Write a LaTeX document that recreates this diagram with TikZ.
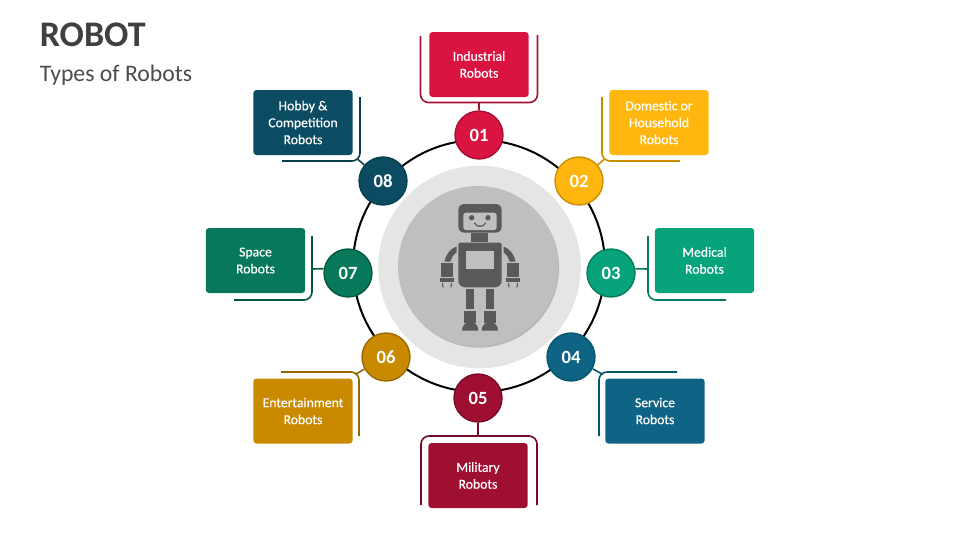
\documentclass[tikz,border=0pt]{standalone}
\usepackage{xcolor}
\usepackage{fontspec}
\setmainfont{Carlito}
\newfontface\cardfont{Carlito}[FakeBold=0.3]
\usetikzlibrary{calc, positioning, shadows}
\definecolor{indfill}{HTML}{D91440}
\definecolor{indline}{HTML}{A31034}
\definecolor{domfill}{HTML}{FFB60F}
\definecolor{domline}{HTML}{C98D00}
\definecolor{medfill}{HTML}{07A37A}
\definecolor{medline}{HTML}{057A5C}
\definecolor{serfill}{HTML}{0F6384}
\definecolor{serline}{HTML}{07566A}
\definecolor{milfill}{HTML}{9F0F32}
\definecolor{milline}{HTML}{740A25}
\definecolor{entfill}{HTML}{C98A00}
\definecolor{entline}{HTML}{966600}
\definecolor{spafill}{HTML}{08785A}
\definecolor{spaline}{HTML}{055640}
\definecolor{hobfill}{HTML}{0B4C63}
\definecolor{hobline}{HTML}{063F4C}
\definecolor{icon}{HTML}{595959}
\definecolor{panel}{HTML}{BFBFBF}
\tikzset{
	x=.75pt,
	y=-.75pt,
	badge/.style 2 args={
		draw=#2,
		fill=#1,
		circle,
		line width=1pt,
		minimum size=36pt,
		inner sep=0pt,
		text=white,
		font=\fontsize{14}{16}\selectfont\bfseries
	},
	card/.style={
		fill=#1,
		rounded corners=2.5pt,
		minimum width=74.6pt,
		minimum height=48.75pt,
		inner sep=0pt,
		align=center,
		text=white,
		font=\fontsize{10.3}{12.7}\cardfont
	},
	bracket/.style={
		draw=#1,
		line width=1.2pt,
		rounded corners=6pt
	},
	link/.style={
		draw=#1,
		line width=1.2pt
	},
	part/.style={
		fill=icon,
		draw=none
	}
}

\begin{document}
\begin{tikzpicture}
	\useasboundingbox (0,0) rectangle (960,540);
	\node[anchor=west, inner sep=0pt, text=black!75, font=\fontsize{27}{32}\selectfont\bfseries] (title) at (39.5,35) {ROBOT};
	\node[anchor=west, inner sep=0pt, text=black!70, font=\fontsize{17.8}{22}\selectfont] (subtitle) at (39.5,75) {Types of Robots};

	% ring and centre
	\node[circle, draw=black, line width=1.5pt, minimum size=189pt, inner sep=0pt] (ring) at (479,266) {};
	\node[circle, fill=black!10, minimum size=152pt, inner sep=0pt] (halo) at (479.5,267) {};
	\node[circle, fill=panel, minimum size=120pt, inner sep=0pt, drop shadow={shadow xshift=.8pt, shadow yshift=-1.2pt, opacity=.45}] (disc) at (478,266) {};

	% robot
	\fill[part, rounded corners=4.5pt] (458.3,204) rectangle (501.7,232.7);
	\fill[panel, rounded corners=2pt] (463.3,212.7) rectangle (496.7,230);
	\fill[part] (471.7,217.7) circle[radius=2.7];
	\fill[part] (488,217.7) circle[radius=2.7];
	\draw[icon, line width=.9pt, line cap=round] (474.5,223) .. controls (476.5,227.5) and (483.5,227.5) .. (485.5,223);
	\fill[part] (471,232.7) rectangle (488,241.7);
	\fill[part, rounded corners=5pt] (458.3,246) -- (458.3,287.3) -- (501.7,287.3) -- (501.7,246) -- cycle;
	\fill[part, rounded corners=1.5pt] (458.3,252) -- (458.3,242.7) -- (501.7,242.7) -- (501.7,252) -- cycle;
	\fill[panel] (465.7,251) rectangle (494.3,269.3);
	\fill[part] (456.5,246.5) .. controls (450,249) and (446,254) .. (444.5,261.7) -- (450.5,261.7) .. controls (451.5,257) and (454,254) .. (456.5,252.5) -- cycle;
	\fill[part] (503.5,246.5) .. controls (510,249) and (514,254) .. (515.5,261.7) -- (509.5,261.7) .. controls (508.5,257) and (506,254) .. (503.5,252.5) -- cycle;
	\fill[part] (441,262.7) rectangle (452.7,276.7);
	\fill[part] (507.3,262.7) rectangle (519,276.7);
	\fill[part] (440,277.5) rectangle (453.7,282);
	\fill[part] (506.3,277.5) rectangle (520,282);
	\draw[icon, line width=.8pt] (442.5,283) -- (443,287.5) (451.5,283) -- (451,287.5);
	\draw[icon, line width=.8pt] (508.5,283) -- (509,287.5) (517.5,283) -- (517,287.5);
	\fill[part] (466,289.3) rectangle (474,309.3);
	\fill[part] (486,289.3) rectangle (494,309.3);
	\fill[part] (464.3,310.7) rectangle (476,322.5);
	\fill[part] (484,310.7) rectangle (495.7,322.5);
	\fill[part] (462,330.7) .. controls (462,325) and (466,322) .. (470.2,322) .. controls (474.4,322) and (478.3,325) .. (478.3,330.7) -- cycle;
	\fill[part] (481.7,330.7) .. controls (481.7,325) and (485.7,322) .. (489.9,322) .. controls (494.1,322) and (498,325) .. (498,330.7) -- cycle;

	% numbered badges
	\node[badge={indfill}{indline}] (n1) at (479,135) {01};
	\node[badge={domfill}{domline}] (n2) at (579,181) {02};
	\node[badge={medfill}{medline}] (n3) at (611,273) {03};
	\node[badge={serfill}{serline}] (n4) at (571,357) {04};
	\node[badge={milfill}{milline}] (n5) at (478,398) {05};
	\node[badge={entfill}{entline}] (n6) at (386,357) {06};
	\node[badge={spafill}{spaline}] (n7) at (348,273) {07};
	\node[badge={hobfill}{hobline}] (n8) at (383,181) {08};

	% cards
	\node[card=indfill] (c1) at (479,64.5) {Industrial\\Robots};
	\node[card=domfill] (c2) at (659,122.5) {Domestic or\\Household\\Robots};
	\node[card=medfill] (c3) at (704.5,260.5) {Medical\\Robots};
	\node[card=serfill] (c4) at (655,411) {Service\\Robots};
	\node[card=milfill] (c5) at (478,475.5) {Military\\Robots};
	\node[card=entfill] (c6) at (303,411) {Entertainment\\Robots};
	\node[card=spafill] (c7) at (255.5,260.5) {Space\\Robots};
	\node[card=hobfill] (c8) at (303,122.5) {Hobby \&\\Competition\\Robots};

	% brackets
	\draw[bracket=indline] (420.5,36) -- (420.5,102.5) -- (537.5,102.5) -- (537.5,35);
	\draw[bracket=domline] (602,97) -- (602,161) -- (680,161);
	\draw[bracket=medline] (648,236) -- (648,300) -- (726,300);
	\draw[bracket=serline] (677,372) -- (599,372) -- (599,436);
	\draw[bracket=milline] (421,505) -- (421,436) -- (537,436) -- (537,505);
	\draw[bracket=entline] (281,372) -- (359,372) -- (359,436);
	\draw[bracket=spaline] (312,236) -- (312,300) -- (234,300);
	\draw[bracket=hobline] (360,97) -- (360,161) -- (282,161);

	% links
	\coordinate (b1) at (479,102.5);
	\coordinate (b2) at (604,159.5);
	\coordinate (b3) at (648,269);
	\coordinate (b4) at (603,374.5);
	\coordinate (b5) at (478,436);
	\coordinate (b6) at (355,374.5);
	\coordinate (b7) at (312,269);
	\coordinate (b8) at (358,159.5);
	\draw[link=indline] (n1) -- (b1);
	\draw[link=domline] (n2) -- (b2);
	\draw[link=medline] (n3.10) -- (b3);
	\draw[link=serline] (n4) -- (b4);
	\draw[link=milline] (n5) -- (b5);
	\draw[link=entline] (n6) -- (b6);
	\draw[link=spaline] (n7.170) -- (b7);
	\draw[link=hobline] (n8) -- (b8);
\end{tikzpicture}
\end{document}
